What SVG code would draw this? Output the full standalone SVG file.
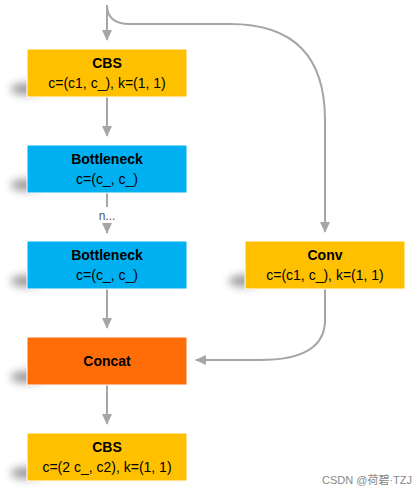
<svg xmlns="http://www.w3.org/2000/svg" width="420" height="495" viewBox="0 0 420 495">
<style>
.t{font-family:"Liberation Sans",Arial,sans-serif;font-size:14px;fill:#000;text-anchor:middle}
.b{font-weight:bold}
.c{fill:none;stroke:#A6A6A6;stroke-width:2}
.sh{fill:#444;opacity:0.55;filter:url(#blur)}
</style>
<defs>
<filter id="blur" x="-100%" y="-100%" width="300%" height="300%"><feGaussianBlur stdDeviation="4"/></filter>
<marker id="arr" markerWidth="12" markerHeight="12" refX="10" refY="6" orient="auto" markerUnits="userSpaceOnUse" viewBox="0 0 12 12">
<path d="M0,1 L11,6 L0,11 Z" fill="#A6A6A6"/>
</marker>
</defs>
<g id="connectors">
<path class="c" d="M107,5 L107,40" marker-end="url(#arr)"/>
<path class="c" d="M107,5 Q107,24 130,24 L230,24 Q325,24 325,120 L325,232" marker-end="url(#arr)"/>
<path class="c" d="M107,97 L107,136" marker-end="url(#arr)"/>
<path class="c" d="M107,193 L107,207"/>
<path class="c" d="M107,224 L107,233" marker-end="url(#arr)"/>
<path class="c" d="M107,288 L107,328" marker-end="url(#arr)"/>
<path class="c" d="M325,289 L325,320 Q325,360 260,360 L196,360" marker-end="url(#arr)"/>
<path class="c" d="M107,384 L107,424" marker-end="url(#arr)"/>
</g>
<text class="t" x="107" y="220" style="font-size:12px;fill:#555">n...</text>
<g id="cbs1">
<ellipse class="sh" cx="27" cy="89" rx="16" ry="6"/>
<rect x="27" y="49" width="160" height="48" fill="#FFC000" stroke="#fff" stroke-width="1"/>
<text class="t b" x="107" y="68">CBS</text>
<text class="t" x="107" y="88">c=(c1, c_), k=(1, 1)</text>
</g>
<g id="bottleneck1">
<ellipse class="sh" cx="27" cy="185" rx="16" ry="6"/>
<rect x="27" y="145" width="160" height="48" fill="#00B0F0" stroke="#fff" stroke-width="1"/>
<text class="t b" x="107" y="164">Bottleneck</text>
<text class="t" x="107" y="184">c=(c_, c_)</text>
</g>
<g id="bottleneck2">
<ellipse class="sh" cx="27" cy="281" rx="16" ry="6"/>
<rect x="27" y="241" width="160" height="48" fill="#00B0F0" stroke="#fff" stroke-width="1"/>
<text class="t b" x="107" y="260">Bottleneck</text>
<text class="t" x="107" y="280">c=(c_, c_)</text>
</g>
<g id="conv">
<ellipse class="sh" cx="245" cy="281" rx="16" ry="6"/>
<rect x="245" y="241" width="160" height="48" fill="#FFC000" stroke="#fff" stroke-width="1"/>
<text class="t b" x="325" y="260">Conv</text>
<text class="t" x="325" y="280">c=(c1, c_), k=(1, 1)</text>
</g>
<g id="concat">
<ellipse class="sh" cx="27" cy="377" rx="16" ry="6"/>
<rect x="27" y="337" width="160" height="48" fill="#FF6D08" stroke="#fff" stroke-width="1"/>
<text class="t b" x="107" y="366">Concat</text>
</g>
<g id="cbs2">
<ellipse class="sh" cx="27" cy="473" rx="16" ry="6"/>
<rect x="27" y="433" width="160" height="48" fill="#FFC000" stroke="#fff" stroke-width="1"/>
<text class="t b" x="107" y="452">CBS</text>
<text class="t" x="107" y="472">c=(2 c_, c2), k=(1, 1)</text>
</g>
<text x="412" y="484" style="font-family:'Liberation Sans','Noto Sans CJK SC',sans-serif;font-size:11px;fill:#888;text-anchor:end">CSDN @荷碧·TZJ</text>
</svg>
